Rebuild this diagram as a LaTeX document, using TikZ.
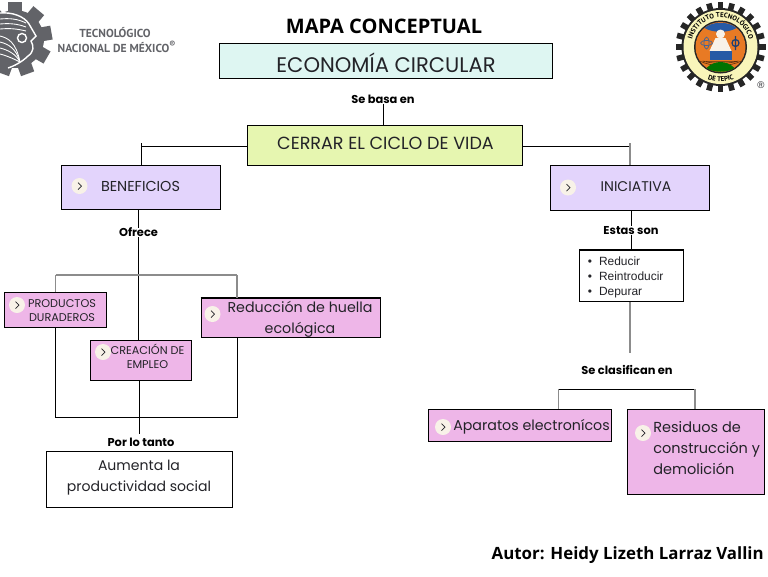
\documentclass[tikz,border=0pt]{standalone}
\usepackage{fontspec}
\usetikzlibrary{positioning,calc,decorations.text}
\setmainfont{Poppins}
\newfontfamily\headfont{Open Sans}
\newfontfamily\listfont{Liberation Sans}
\newfontfamily\logofont{PT Sans}
\definecolor{titlec}{RGB}{222,246,242}
\definecolor{cyclec}{RGB}{230,246,176}
\definecolor{purplec}{RGB}{227,212,252}
\definecolor{pinkc}{RGB}{238,182,232}
\definecolor{creamc}{RGB}{248,242,232}
\definecolor{linec}{RGB}{140,140,140}
\definecolor{gearc}{RGB}{98,99,104}
\definecolor{textc}{RGB}{35,35,40}
\definecolor{sealo}{RGB}{232,122,36}
\definecolor{sealb}{RGB}{38,90,165}

\begin{document}
\begin{tikzpicture}[x=0.02cm,y=-0.02cm]
\tikzstyle{box}=[draw=black,line width=0.55pt,inner sep=0pt];
\tikzstyle{pinkbox}=[box,fill=pinkc];
\tikzstyle{purplebox}=[box,fill=purplec];
\tikzstyle{txt}=[anchor=center,align=center,text=textc,inner sep=0pt];
\tikzstyle{small}=[txt,font=\fontsize{6.4}{8}\selectfont];
\tikzstyle{mid}=[txt,font=\fontsize{8.2}{12}\selectfont];
\tikzstyle{link}=[txt,text=black,font=\fontsize{6.5}{7}\selectfont\bfseries];
\tikzstyle{conn}=[black,line width=0.55pt];
\tikzstyle{gconn}=[linec,line width=0.8pt];

\useasboundingbox (0,0) rectangle (768,576);

% gear logo
\begin{scope}
  \clip (0,0) rectangle (60,80);
  \foreach \a in {0,40,...,320}
    \fill[gearc,rotate around={\a:(15,39)}] (8,2) rectangle (22,12);
  \fill[gearc] (15,39) circle (29);
  \draw[white,line width=0.8pt] (0,13) .. controls (12,12) and (24,16) .. (29,24) -- (36,36) -- (31,41)
     .. controls (34,46) and (34,52) .. (28,56) .. controls (22,62) and (14,66) .. (8,68);
  \foreach \r/\b in {19/23,24/27,29/31}
    \draw[white,line width=0.5pt] (0,\r) .. controls (10,\r-1) and (18,\r) .. (26,\b);
  \foreach \r in {36,42,48,54}
    \draw[white,line width=0.5pt] (0,\r) .. controls (8,\r+2) and (16,\r+6) .. (20,62);
  \draw[white,line width=0.8pt] (22,38) circle (4.5);
\end{scope}
\node[txt,text=gearc,font=\logofont\bfseries\fontsize{6.6}{8}\selectfont] (tec) at (115,33) {TECNOLÓGICO};
\node[txt,text=gearc,font=\logofont\bfseries\fontsize{6.6}{8}\selectfont] (nac) at (117,47) {NACIONAL DE MÉXICO\textsuperscript{\tiny ®}};

% seal
\begin{scope}[shift={(720.5,47)},x=0.02cm,y=0.02cm]
  \foreach \a in {0,15,...,345}
    \fill[black!85,rotate=\a] (-2.8,36) rectangle (2.8,45);
  \fill[black!85] (0,0) circle (39);
  \fill[creamc!80!yellow] (0,0) circle (37);
  \fill[black!85] (0,0) circle (26.5);
  \fill[sealo] (0,0) circle (25);
  \fill[sealb] (-16,19) .. controls (-8,26) and (8,26) .. (16,19) .. controls (8,14) and (-8,14) .. (-16,19);
  \fill[creamc] (0,13) circle (4.5);
  \fill[creamc] (-11,-4) -- (-5,9) -- (5,9) -- (11,-4) -- cycle;
  \fill[sealb] (-11,-13) rectangle (11,-4);
  \foreach \r in {15,18,21}
    \draw[black!60!sealo,line width=0.35pt] (-\r,-14) .. controls (-8,-\r+1) and (8,-\r+1) .. (\r,-14);
  \fill[green!45!black] (-14,-21) .. controls (-6,-13) and (6,-13) .. (14,-21) .. controls (6,-26) and (-6,-26) .. (-14,-21);
  \draw[sealb!70!gray,line width=0.4pt] (-14,4) circle (2.5 and 6) (-14,4) circle (6 and 2.5);
  \draw[sealb!70!black,line width=0.7pt] (15,4) circle (3.5) (15,-3) -- (15,11);
  \path[decorate,decoration={text along path,text align=center,
    text={|\logofont\bfseries\fontsize{3.9}{5}\selectfont|INSTITUTO TECNOLÓGICO}}]
    (-27.5,-10.5) arc (201:-21:29.5);
  \path[decorate,decoration={text along path,text align=center,
    text={|\logofont\bfseries\fontsize{3.9}{5}\selectfont|DE TEPIC}}]
    (-20,-28) arc (234:306:34.5);
\end{scope}
\node[txt,font=\listfont\fontsize{5.5}{6}\selectfont] (reg) at (761,85) {®};

% titles
\node[txt,text=black,font=\headfont\bfseries\fontsize{11.4}{12}\selectfont] (title) at (384,26) {MAPA CONCEPTUAL};
\node[box,fill=titlec,minimum width=6.66cm,minimum height=0.7cm] (eco) at (386,61) {};
\node[txt,font=\fontsize{12}{14}\selectfont] (ecot) at (386,63) {ECONOMÍA CIRCULAR};
\node[txt,text=black,font=\headfont\bfseries\fontsize{9.6}{11}\selectfont,anchor=east] (autor) at (764,555) {Autor: Heidy Lizeth Larraz Vallin};

% boxes
\node[box,fill=cyclec,minimum width=5.51cm,minimum height=0.8cm] (ciclo) at (385.25,145) {};
\node[purplebox,minimum width=3.18cm,minimum height=0.88cm] (ben) at (141,187) {};
\node[purplebox,minimum width=3.18cm,minimum height=0.9cm] (ini) at (629.5,187.5) {};
\node[pinkbox,minimum width=2.04cm,minimum height=0.7cm] (prod) at (55.5,309.5) {};
\node[pinkbox,minimum width=2.02cm,minimum height=0.8cm] (crea) at (141,360) {};
\node[pinkbox,minimum width=3.59cm,minimum height=0.78cm] (redu) at (290.75,318) {};
\node[box,fill=white,minimum width=3.73cm,minimum height=1.12cm] (aum) at (139.25,479) {};
\node[box,fill=white,minimum width=2.08cm,minimum height=1.02cm] (lista) at (631.5,276) {};
\node[pinkbox,minimum width=3.66cm,minimum height=0.64cm] (apar) at (520,425) {};
\node[pinkbox,minimum width=2.74cm,minimum height=1.7cm] (resi) at (696,452) {};
\draw[black,line width=1.1pt] (redu.north west) -- (redu.north east);
\draw[black,line width=1.1pt] (lista.north west) -- (lista.north east);

% box texts
\node[txt,font=\fontsize{10}{12}\selectfont] (ciclot) at (385.5,143) {CERRAR EL CICLO DE VIDA};
\node[mid] (bent) at (140.5,186) {BENEFICIOS};
\node[mid,font=\fontsize{8}{12}\selectfont] (init) at (636,187) {INICIATIVA};
\node[small] (prodt) at (62,311) {PRODUCTOS\\DURADEROS};
\node[small] (creat) at (147.5,356) {CREACIÓN DE\\EMPLEO};
\node[txt,font=\fontsize{8.1}{12}\selectfont] (redut) at (300,319) {Reducción de huella\\ecológica};
\node[txt,font=\fontsize{8}{12}\selectfont] (aumt) at (139,478) {Aumenta la\\productividad social};
\node[txt,font=\fontsize{8.1}{12}\selectfont] (apart) at (531.5,426.5) {Aparatos electronícos};
\node[txt,align=left,anchor=west,font=\fontsize{8.25}{12}\selectfont] (resit) at (653,448) {Residuos de\\construcción y\\demolición};
\node[txt,align=left,anchor=west,font=\listfont\fontsize{6.8}{8.6}\selectfont] (listat) at (587.5,277.5) {\textbullet\hspace{4pt}Reducir\\\textbullet\hspace{4pt}Reintroducir\\\textbullet\hspace{4pt}Depurar};

% chevrons
\foreach \x/\y in {79.5/186,568/187.5,17/305,103/352,212.5/314,443/427,643/433}
{
  \fill[creamc] (\x,\y) circle (8);
  \draw[textc,line width=0.4pt] (\x-1.5,\y-3.5) -- (\x+2,\y) -- (\x-1.5,\y+3.5);
}

% link labels
\node[link] (basa) at (383,99) {Se basa en};
\node[link] (ofre) at (138.5,232.5) {Ofrece};
\node[link] (porl) at (141,442) {Por lo tanto};
\node[link] (esta) at (631,230.5) {Estas son};
\node[link] (clas) at (627,370) {Se clasifican en};

% connectors
\coordinate (bl) at (141,146);
\coordinate (ir) at (630,146);
\coordinate (hl) at (55.5,275);
\coordinate (hr) at (237,275);
\coordinate (ll) at (55.5,417);
\coordinate (lr) at (237,417);
\coordinate (cl) at (558.5,389);
\coordinate (cr) at (695,389);
\coordinate (cd) at (630,353);
\coordinate (pd) at (139.5,434);

\draw[conn] (basa.south) -- (ciclo.north -| basa.south);
\draw[conn] (ciclo.west |- bl) -- (bl) -- (ben.north -| bl);
\draw[conn] (141,143) -- (bl);
\draw[conn] (ciclo.east |- ir) -- (ir);
\draw[gconn] (630,143) -- (ini.north -| ir);
\draw[conn] (ofre.north |- ben.south) -- (ofre.north);
\draw[conn] (ofre.south) -- (crea.north -| ofre.south);
\draw[gconn] (hl) -- (hr);
\draw[gconn] (hl) -- (prod.north);
\draw[gconn] (hr) -- (hr |- redu.north);
\draw[conn] (prod.south) -- (ll) -- (lr) -- (lr |- redu.south);
\draw[conn] (pd |- crea.south) -- (pd);
\draw[conn] (esta.north |- ini.south) -- (esta.north);
\draw[conn] (esta.south) -- (lista.north -| esta.south);
\draw[gconn] (cd |- lista.south) -- (cd);
\draw[conn] (cl) -- (cr);
\draw[gconn] (cl) -- (cl |- apar.north);
\draw[gconn] (cr) -- (cr |- resi.north);
\end{tikzpicture}
\end{document}
